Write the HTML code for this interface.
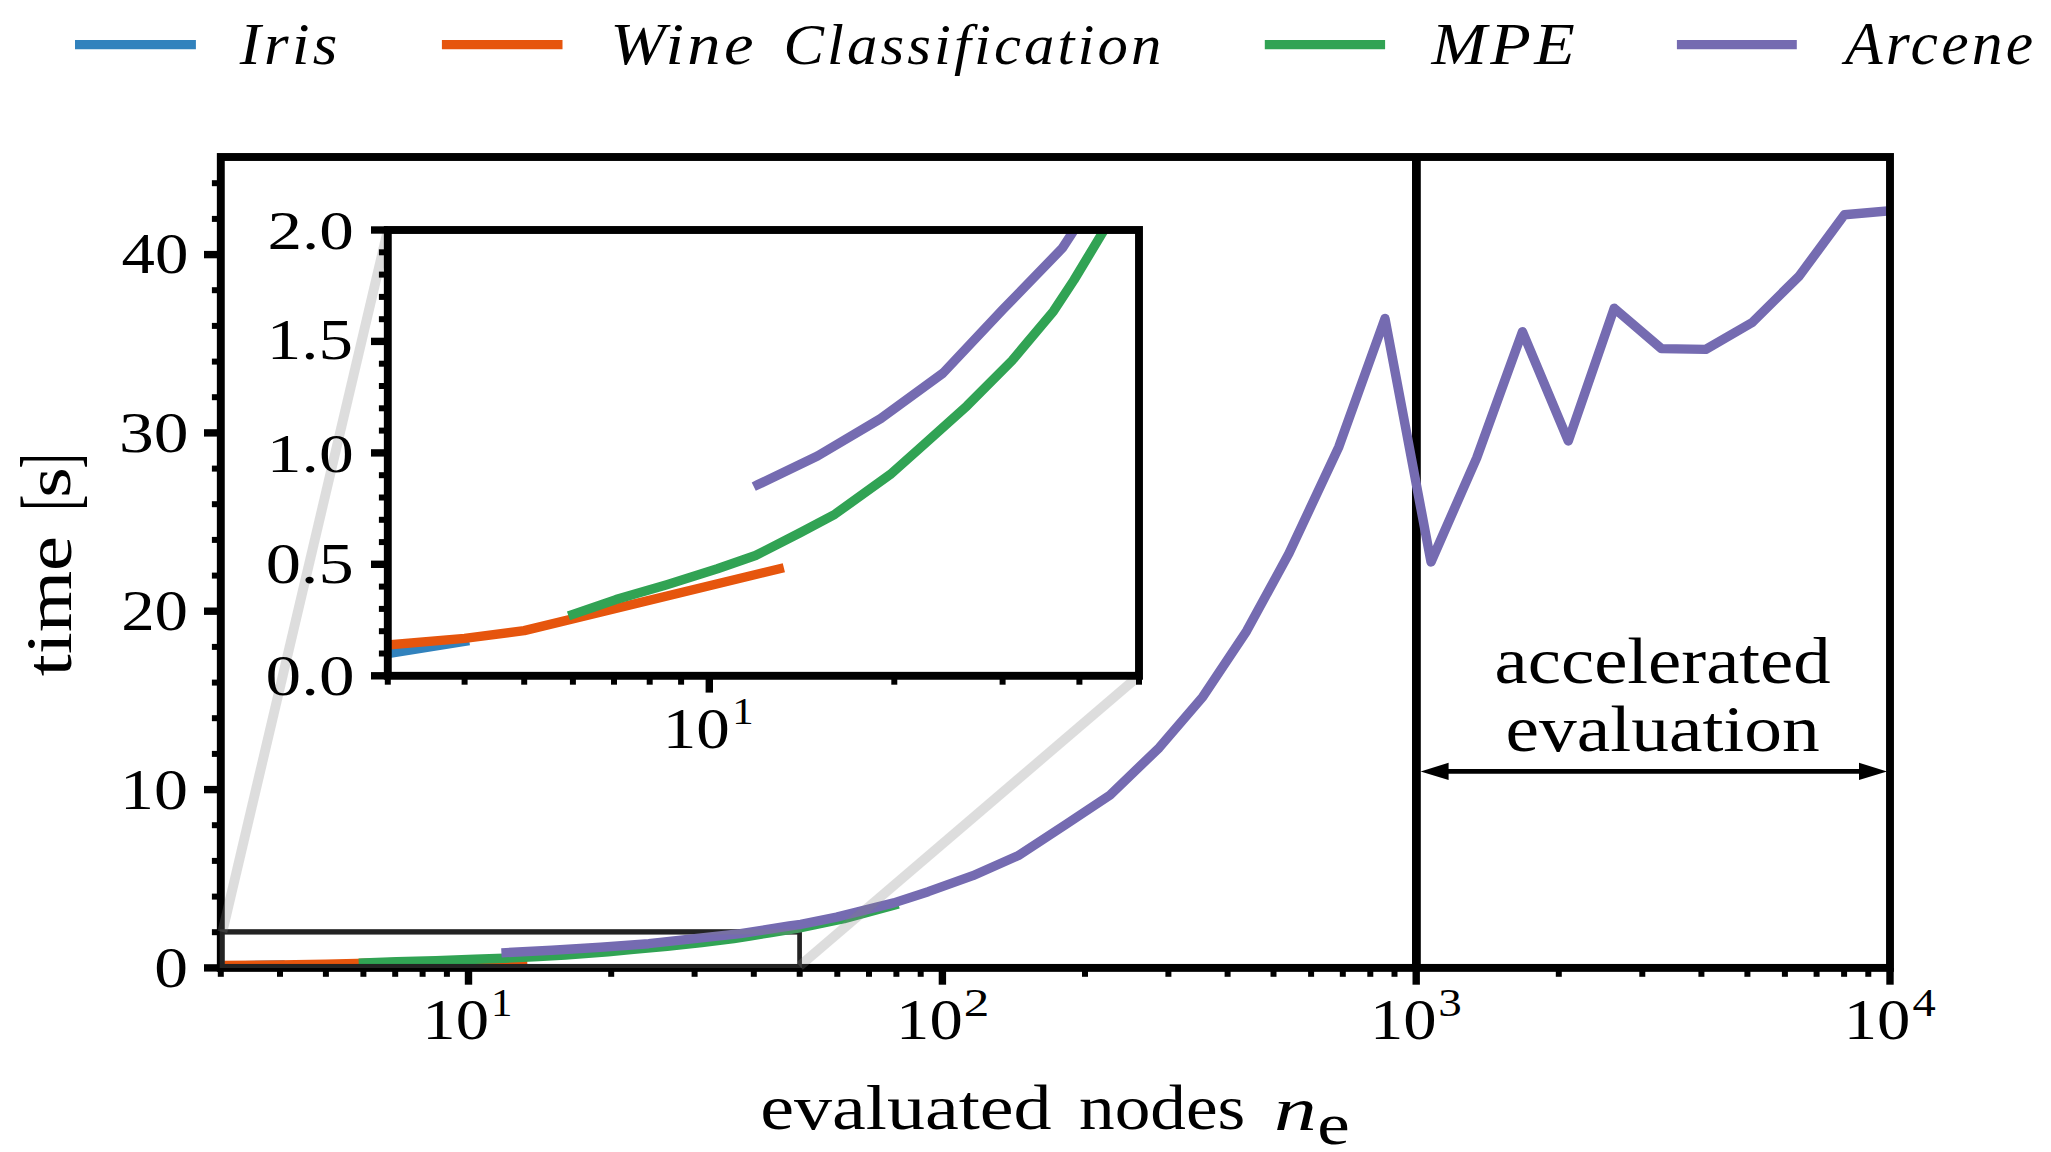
<!DOCTYPE html>
<html><head><meta charset="utf-8"><title>figure</title>
<style>html,body{margin:0;padding:0;background:#fff}svg{display:block}</style></head>
<body>
<svg width="2051" height="1152" viewBox="0 0 2051 1152">
<defs><clipPath id="cm"><rect x="220.8" y="157.0" width="1669.2" height="810.9"/></clipPath><clipPath id="ci"><rect x="387.8" y="230.0" width="751.2" height="445.79999999999995"/></clipPath></defs>
<rect width="2051" height="1152" fill="#fff"/>
<g clip-path="url(#cm)">
<line x1="1416.4" y1="157.0" x2="1416.4" y2="967.9" stroke="#000" stroke-width="8.8"/>
<path d="M220.8 929.2H801.9V968H797.3V934.6H220.8Z" fill="#000"/>
<polyline points="220.8,966.1 280.0,965.1" fill="none" stroke="#3182bd" stroke-width="9.4" stroke-linejoin="round" stroke-linecap="square"/>
<polyline points="220.8,965.4 280.0,964.9 325.9,964.3 522.5,959.3" fill="none" stroke="#e6550d" stroke-width="9.4" stroke-linejoin="round" stroke-linecap="square"/>
<polyline points="363.4,963.0 396.6,961.8 435.8,960.6 474.8,959.3 504.2,958.3 538.5,956.5 565.3,955.0 608.1,951.8 633.6,949.4 667.1,946.3 701.8,942.7 733.8,938.7 749.7,936.2 771.1,932.5 799.7,927.8 844.0,918.7 893.9,905.3" fill="none" stroke="#31a354" stroke-width="9.4" stroke-linejoin="round" stroke-linecap="square"/>
<polyline points="506.1,952.6 552.0,950.3 600.6,947.3 648.7,943.7 694.6,938.6 740.5,933.7 789.2,926.0 800.7,924.3 836.6,917.1 893.8,902.9 928.2,891.7 972.8,875.7 1018.4,855.5 1065.6,824.6 1110.0,795.1 1159.1,747.8 1202.9,696.7 1246.6,631.1 1288.9,553.6 1338.9,446.7 1385.0,318.5 1431.0,562.0 1476.7,457.8 1522.5,331.7 1568.3,441.0 1614.2,308.3 1661.4,348.6 1705.8,349.4 1752.2,322.5 1799.4,275.8 1844.4,214.7 1890.0,210.8" fill="none" stroke="#756bb1" stroke-width="9.4" stroke-linejoin="round" stroke-linecap="square"/>
</g>
<g stroke="#000" fill="none">
<line x1="468.5" y1="967.9" x2="468.5" y2="984.6999999999999" stroke-width="7.4"/>
<line x1="942.4" y1="967.9" x2="942.4" y2="984.6999999999999" stroke-width="7.4"/>
<line x1="1416.2" y1="967.9" x2="1416.2" y2="984.6999999999999" stroke-width="7.4"/>
<line x1="1890.0" y1="967.9" x2="1890.0" y2="984.6999999999999" stroke-width="7.4"/>
<line x1="220.8" y1="967.9" x2="220.8" y2="976.8" stroke-width="6.0"/>
<line x1="280.0" y1="967.9" x2="280.0" y2="976.8" stroke-width="6.0"/>
<line x1="325.9" y1="967.9" x2="325.9" y2="976.8" stroke-width="6.0"/>
<line x1="363.4" y1="967.9" x2="363.4" y2="976.8" stroke-width="6.0"/>
<line x1="395.2" y1="967.9" x2="395.2" y2="976.8" stroke-width="6.0"/>
<line x1="422.6" y1="967.9" x2="422.6" y2="976.8" stroke-width="6.0"/>
<line x1="446.9" y1="967.9" x2="446.9" y2="976.8" stroke-width="6.0"/>
<line x1="611.2" y1="967.9" x2="611.2" y2="976.8" stroke-width="6.0"/>
<line x1="694.6" y1="967.9" x2="694.6" y2="976.8" stroke-width="6.0"/>
<line x1="753.8" y1="967.9" x2="753.8" y2="976.8" stroke-width="6.0"/>
<line x1="799.7" y1="967.9" x2="799.7" y2="976.8" stroke-width="6.0"/>
<line x1="837.3" y1="967.9" x2="837.3" y2="976.8" stroke-width="6.0"/>
<line x1="869.0" y1="967.9" x2="869.0" y2="976.8" stroke-width="6.0"/>
<line x1="896.4" y1="967.9" x2="896.4" y2="976.8" stroke-width="6.0"/>
<line x1="920.7" y1="967.9" x2="920.7" y2="976.8" stroke-width="6.0"/>
<line x1="1085.0" y1="967.9" x2="1085.0" y2="976.8" stroke-width="6.0"/>
<line x1="1168.4" y1="967.9" x2="1168.4" y2="976.8" stroke-width="6.0"/>
<line x1="1227.6" y1="967.9" x2="1227.6" y2="976.8" stroke-width="6.0"/>
<line x1="1273.5" y1="967.9" x2="1273.5" y2="976.8" stroke-width="6.0"/>
<line x1="1311.1" y1="967.9" x2="1311.1" y2="976.8" stroke-width="6.0"/>
<line x1="1342.8" y1="967.9" x2="1342.8" y2="976.8" stroke-width="6.0"/>
<line x1="1370.3" y1="967.9" x2="1370.3" y2="976.8" stroke-width="6.0"/>
<line x1="1394.5" y1="967.9" x2="1394.5" y2="976.8" stroke-width="6.0"/>
<line x1="1558.8" y1="967.9" x2="1558.8" y2="976.8" stroke-width="6.0"/>
<line x1="1642.3" y1="967.9" x2="1642.3" y2="976.8" stroke-width="6.0"/>
<line x1="1701.4" y1="967.9" x2="1701.4" y2="976.8" stroke-width="6.0"/>
<line x1="1747.4" y1="967.9" x2="1747.4" y2="976.8" stroke-width="6.0"/>
<line x1="1784.9" y1="967.9" x2="1784.9" y2="976.8" stroke-width="6.0"/>
<line x1="1816.6" y1="967.9" x2="1816.6" y2="976.8" stroke-width="6.0"/>
<line x1="1844.1" y1="967.9" x2="1844.1" y2="976.8" stroke-width="6.0"/>
<line x1="1868.3" y1="967.9" x2="1868.3" y2="976.8" stroke-width="6.0"/>
<line x1="220.8" y1="967.9" x2="204.0" y2="967.9" stroke-width="7.4"/>
<line x1="220.8" y1="789.6" x2="204.0" y2="789.6" stroke-width="7.4"/>
<line x1="220.8" y1="611.2" x2="204.0" y2="611.2" stroke-width="7.4"/>
<line x1="220.8" y1="432.9" x2="204.0" y2="432.9" stroke-width="7.4"/>
<line x1="220.8" y1="254.6" x2="204.0" y2="254.6" stroke-width="7.4"/>
<line x1="220.8" y1="932.2" x2="211.9" y2="932.2" stroke-width="6.0"/>
<line x1="220.8" y1="896.6" x2="211.9" y2="896.6" stroke-width="6.0"/>
<line x1="220.8" y1="860.9" x2="211.9" y2="860.9" stroke-width="6.0"/>
<line x1="220.8" y1="825.2" x2="211.9" y2="825.2" stroke-width="6.0"/>
<line x1="220.8" y1="753.9" x2="211.9" y2="753.9" stroke-width="6.0"/>
<line x1="220.8" y1="718.2" x2="211.9" y2="718.2" stroke-width="6.0"/>
<line x1="220.8" y1="682.6" x2="211.9" y2="682.6" stroke-width="6.0"/>
<line x1="220.8" y1="646.9" x2="211.9" y2="646.9" stroke-width="6.0"/>
<line x1="220.8" y1="575.6" x2="211.9" y2="575.6" stroke-width="6.0"/>
<line x1="220.8" y1="539.9" x2="211.9" y2="539.9" stroke-width="6.0"/>
<line x1="220.8" y1="504.2" x2="211.9" y2="504.2" stroke-width="6.0"/>
<line x1="220.8" y1="468.6" x2="211.9" y2="468.6" stroke-width="6.0"/>
<line x1="220.8" y1="397.2" x2="211.9" y2="397.2" stroke-width="6.0"/>
<line x1="220.8" y1="361.6" x2="211.9" y2="361.6" stroke-width="6.0"/>
<line x1="220.8" y1="325.9" x2="211.9" y2="325.9" stroke-width="6.0"/>
<line x1="220.8" y1="290.2" x2="211.9" y2="290.2" stroke-width="6.0"/>
<line x1="220.8" y1="218.9" x2="211.9" y2="218.9" stroke-width="6.0"/>
<line x1="220.8" y1="183.2" x2="211.9" y2="183.2" stroke-width="6.0"/>
<rect x="220.8" y="157.0" width="1669.2" height="810.9" stroke-width="7.9"/>
</g>
<path d="M219.7 929.2H801.9V968H219.7Z M225 934.6V964H797.3V934.6Z" fill="#808080" fill-opacity="0.27" fill-rule="evenodd"/>
<g stroke="#808080" stroke-opacity="0.27" stroke-width="9.8"><line x1="387.8" y1="230.0" x2="222.4" y2="931.8"/><line x1="1139.0" y1="675.8" x2="799.6" y2="966.0"/></g>
<rect x="387.8" y="230.0" width="751.2" height="445.79999999999995" fill="#fff"/>
<g clip-path="url(#ci)">
<polyline points="387.8,653.6 464.6,641.3" fill="none" stroke="#3182bd" stroke-width="9.4" stroke-linejoin="round" stroke-linecap="square"/>
<polyline points="387.8,645.0 464.6,638.4 524.2,630.6 779.3,568.8" fill="none" stroke="#e6550d" stroke-width="9.4" stroke-linejoin="round" stroke-linecap="square"/>
<polyline points="572.9,614.4 615.9,599.6 666.8,584.7 717.4,568.8 755.5,555.5 800.1,532.7 834.8,514.3 890.3,474.4 923.4,444.9 966.9,405.9 1011.9,360.7 1053.5,311.2 1074.0,280.0 1101.8,233.9 1139.0,174.3 1196.4,60.6 1261.1,-106.6" fill="none" stroke="#31a354" stroke-width="9.4" stroke-linejoin="round" stroke-linecap="square"/>
<polyline points="758.0,484.6 817.5,456.0 880.6,418.6 943.0,373.1 1002.6,309.8 1062.2,248.3 1125.3,152.0 1140.3,130.8 1186.8,40.8 1261.1,-136.7 1305.7,-276.6 1363.6,-476.6 1422.7,-729.1 1484.0,-1115.3 1541.6,-1484.1 1605.3,-2075.3 1662.1,-2714.0 1718.8,-3534.0 1773.7,-4502.7 1838.6,-5838.8 1898.4,-7441.2 1958.1,-4397.7 2017.4,-5700.1 2076.8,-7276.3 2136.3,-5910.1 2195.8,-7568.7 2257.1,-7065.0 2314.7,-7055.0 2374.9,-7391.2 2436.1,-7975.0 2494.5,-8738.7 2553.7,-8787.4" fill="none" stroke="#756bb1" stroke-width="9.4" stroke-linejoin="round" stroke-linecap="square"/>
</g>
<g stroke="#000" fill="none">
<line x1="709.3" y1="675.8" x2="709.3" y2="692.5999999999999" stroke-width="7.4"/>
<line x1="387.8" y1="675.8" x2="387.8" y2="684.6999999999999" stroke-width="6.0"/>
<line x1="464.6" y1="675.8" x2="464.6" y2="684.6999999999999" stroke-width="6.0"/>
<line x1="524.2" y1="675.8" x2="524.2" y2="684.6999999999999" stroke-width="6.0"/>
<line x1="572.9" y1="675.8" x2="572.9" y2="684.6999999999999" stroke-width="6.0"/>
<line x1="614.0" y1="675.8" x2="614.0" y2="684.6999999999999" stroke-width="6.0"/>
<line x1="649.7" y1="675.8" x2="649.7" y2="684.6999999999999" stroke-width="6.0"/>
<line x1="681.1" y1="675.8" x2="681.1" y2="684.6999999999999" stroke-width="6.0"/>
<line x1="894.3" y1="675.8" x2="894.3" y2="684.6999999999999" stroke-width="6.0"/>
<line x1="1002.6" y1="675.8" x2="1002.6" y2="684.6999999999999" stroke-width="6.0"/>
<line x1="1079.4" y1="675.8" x2="1079.4" y2="684.6999999999999" stroke-width="6.0"/>
<line x1="1139.0" y1="675.8" x2="1139.0" y2="684.6999999999999" stroke-width="6.0"/>
<line x1="387.8" y1="675.8" x2="371.0" y2="675.8" stroke-width="7.4"/>
<line x1="387.8" y1="653.5" x2="378.90000000000003" y2="653.5" stroke-width="6.0"/>
<line x1="387.8" y1="631.2" x2="378.90000000000003" y2="631.2" stroke-width="6.0"/>
<line x1="387.8" y1="608.9" x2="378.90000000000003" y2="608.9" stroke-width="6.0"/>
<line x1="387.8" y1="586.6" x2="378.90000000000003" y2="586.6" stroke-width="6.0"/>
<line x1="387.8" y1="564.3" x2="371.0" y2="564.3" stroke-width="7.4"/>
<line x1="387.8" y1="542.1" x2="378.90000000000003" y2="542.1" stroke-width="6.0"/>
<line x1="387.8" y1="519.8" x2="378.90000000000003" y2="519.8" stroke-width="6.0"/>
<line x1="387.8" y1="497.5" x2="378.90000000000003" y2="497.5" stroke-width="6.0"/>
<line x1="387.8" y1="475.2" x2="378.90000000000003" y2="475.2" stroke-width="6.0"/>
<line x1="387.8" y1="452.9" x2="371.0" y2="452.9" stroke-width="7.4"/>
<line x1="387.8" y1="430.6" x2="378.90000000000003" y2="430.6" stroke-width="6.0"/>
<line x1="387.8" y1="408.3" x2="378.90000000000003" y2="408.3" stroke-width="6.0"/>
<line x1="387.8" y1="386.0" x2="378.90000000000003" y2="386.0" stroke-width="6.0"/>
<line x1="387.8" y1="363.7" x2="378.90000000000003" y2="363.7" stroke-width="6.0"/>
<line x1="387.8" y1="341.4" x2="371.0" y2="341.4" stroke-width="7.4"/>
<line x1="387.8" y1="319.2" x2="378.90000000000003" y2="319.2" stroke-width="6.0"/>
<line x1="387.8" y1="296.9" x2="378.90000000000003" y2="296.9" stroke-width="6.0"/>
<line x1="387.8" y1="274.6" x2="378.90000000000003" y2="274.6" stroke-width="6.0"/>
<line x1="387.8" y1="252.3" x2="378.90000000000003" y2="252.3" stroke-width="6.0"/>
<line x1="387.8" y1="230.0" x2="371.0" y2="230.0" stroke-width="7.4"/>
<rect x="387.8" y="230.0" width="751.2" height="445.79999999999995" stroke-width="7.9"/>
</g>
<line x1="1446.6" y1="771.4" x2="1861.0" y2="771.4" stroke="#000" stroke-width="4.6"/>
<path d="M1420.6 771.4 L1448.6 762.8 L1448.6 780.0 Z M1887.0 771.4 L1859.0 762.8 L1859.0 780.0 Z" fill="#000"/>
<line x1="75" y1="44.6" x2="195.9" y2="44.6" stroke="#3182bd" stroke-width="9.1"/>
<line x1="441.9" y1="44.6" x2="562.5" y2="44.6" stroke="#e6550d" stroke-width="9.1"/>
<line x1="1264.8" y1="44.6" x2="1385.1" y2="44.6" stroke="#31a354" stroke-width="9.1"/>
<line x1="1676.9" y1="44.6" x2="1796.8" y2="44.6" stroke="#756bb1" stroke-width="9.1"/>
<g fill="#000" font-family="&quot;Liberation Serif&quot;, serif">
<text transform="matrix(1.0886 0 0 1.0231 239.80 64.28)" style="font-size:58px;font-style:italic;letter-spacing:3px;">Iris</text>
<text transform="matrix(1.1458 0 0 1.0154 610.32 64.28)" style="font-size:58px;font-style:italic;letter-spacing:3px;">Wine</text>
<text transform="matrix(1.0461 0 0 0.9865 783.46 63.66)" style="font-size:58px;font-style:italic;letter-spacing:3px;">Classification</text>
<text transform="matrix(1.1440 0 0 1.0263 1431.54 64.40)" style="font-size:58px;font-style:italic;letter-spacing:3px;">MPE</text>
<text transform="matrix(1.0626 0 0 1.0538 1844.89 64.25)" style="font-size:58px;font-style:italic;letter-spacing:3px;">Arcene</text>
<text transform="matrix(1.2261 0 0 1.0351 154.35 986.96)" style="font-size:55px;">0</text>
<text transform="matrix(1.2354 0 0 1.0378 120.12 809.36)" style="font-size:55px;">10</text>
<text transform="matrix(1.2157 0 0 1.0324 121.17 629.97)" style="font-size:55px;">20</text>
<text transform="matrix(1.2640 0 0 1.0351 119.01 451.86)" style="font-size:55px;">30</text>
<text transform="matrix(1.2154 0 0 1.0405 121.58 273.46)" style="font-size:55px;">40</text>
<text transform="matrix(1.2125 0 0 1.0351 422.29 1039.06)" style="font-size:55px;">10</text>
<text transform="matrix(1.1000 0 0 1.0115 491.05 1016.10)" style="font-size:39px;">1</text>
<text transform="matrix(1.2125 0 0 1.0351 896.10 1039.06)" style="font-size:55px;">10</text>
<text transform="matrix(1.3133 0 0 1.0115 963.84 1016.10)" style="font-size:39px;">2</text>
<text transform="matrix(1.2125 0 0 1.0351 1369.92 1039.06)" style="font-size:55px;">10</text>
<text transform="matrix(1.2062 0 0 1.0192 1438.17 1016.30)" style="font-size:39px;">3</text>
<text transform="matrix(1.2125 0 0 1.0351 1843.74 1039.06)" style="font-size:55px;">10</text>
<text transform="matrix(1.1944 0 0 1.0115 1912.61 1016.10)" style="font-size:39px;">4</text>
<text transform="matrix(1.2198 0 0 1.0378 662.65 748.36)" style="font-size:55px;">10</text>
<text transform="matrix(1.1000 0 0 0.9904 732.30 723.75)" style="font-size:39px;">1</text>
<text transform="matrix(1.2569 0 0 1.0162 267.39 248.78)" style="font-size:55px;">2.0</text>
<text transform="matrix(1.2548 0 0 1.0189 266.83 359.48)" style="font-size:55px;">1.5</text>
<text transform="matrix(1.2661 0 0 1.0162 266.77 471.98)" style="font-size:55px;">1.0</text>
<text transform="matrix(1.2815 0 0 1.0324 265.64 583.17)" style="font-size:55px;">0.5</text>
<text transform="matrix(1.2954 0 0 1.0324 265.61 695.17)" style="font-size:55px;">0.0</text>
<text transform="matrix(1.1707 0 0 0.9766 760.16 1129.22)" style="font-size:65px;">evaluated</text>
<text transform="matrix(1.0966 0 0 0.9766 1079.00 1129.22)" style="font-size:65px;">nodes</text>
<text transform="matrix(1.3143 0 0 0.9484 1274.07 1130.00)" style="font-size:65px;font-style:italic;">n</text>
<text transform="matrix(1.2217 0 0 0.9897 1317.36 1143.91)" style="font-size:60px;">e</text>
<text transform="matrix(0 -1.2152 0.9977 0 70.70 676.22)" style="font-size:65px;">time</text>
<text transform="matrix(0 -0.7214 1.2218 0 76.10 510.61)" style="font-size:65px;">[</text>
<text transform="matrix(0 -1.2100 0.9750 0 70.12 497.83)" style="font-size:65px;">s</text>
<text transform="matrix(0 -0.6667 1.2218 0 76.10 468.23)" style="font-size:65px;">]</text>
<text transform="matrix(1.1503 0 0 1.0064 1494.60 683.19)" style="font-size:65px;">accelerated</text>
<text transform="matrix(1.1612 0 0 0.9957 1505.48 751.00)" style="font-size:65px;">evaluation</text>
</g>
</svg>
</body></html>
